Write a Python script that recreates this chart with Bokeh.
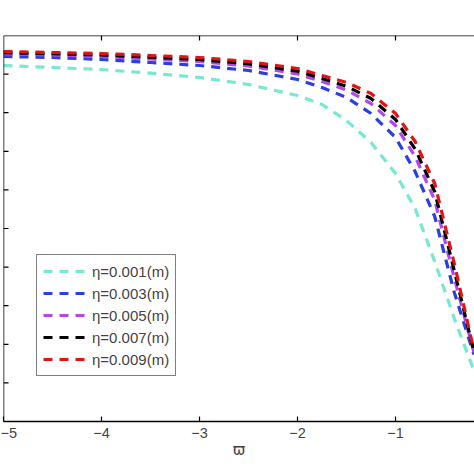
from bokeh.plotting import figure
from bokeh.models import LinearAxis, FixedTicker, Range1d, Legend, LegendItem, Span
from bokeh.embed import file_html
from bokeh.resources import INLINE

# frequency axis (varpi)
omega = [-5.0, -4.5, -4.0, -3.5, -3.0, -2.5, -2.0, -1.75, -1.5, -1.25, -1.0, -0.8, -0.6, -0.4, -0.2]

eta_001 = [0.9223, 0.9171, 0.9119, 0.9023, 0.8912, 0.8731, 0.8446, 0.8212, 0.7798, 0.7228, 0.6425, 0.5518, 0.4145, 0.2668, 0.1321]
eta_003 = [0.9456, 0.9430, 0.9378, 0.9301, 0.9223, 0.9093, 0.8860, 0.8653, 0.8394, 0.7979, 0.7358, 0.6477, 0.5311, 0.3342, 0.1736]
eta_005 = [0.9521, 0.9495, 0.9456, 0.9391, 0.9326, 0.9210, 0.9003, 0.8808, 0.8588, 0.8238, 0.7668, 0.6865, 0.5738, 0.3718, 0.1788]
eta_007 = [0.9553, 0.9527, 0.9495, 0.9437, 0.9378, 0.9268, 0.9074, 0.8886, 0.8685, 0.8368, 0.7824, 0.7060, 0.5952, 0.3905, 0.1813]
eta_009 = [0.9585, 0.9560, 0.9534, 0.9482, 0.9430, 0.9326, 0.9145, 0.8964, 0.8782, 0.8497, 0.7979, 0.7254, 0.6166, 0.4093, 0.1839]

labels = ["η=0.001(m)", "η=0.003(m)", "η=0.005(m)", "η=0.007(m)", "η=0.009(m)"]
colors = ["#78e8d0", "#2a3ee6", "#b048ee", "#000000", "#e01414"]
series = [eta_001, eta_003, eta_005, eta_007, eta_009]

x_ticks = [-5, -4, -3, -2, -1]
x_tick_labels = {-5: "−5", -4: "−4", -3: "−3", -2: "−2", -1: "−1"}
y_ticks = [0.1, 0.2, 0.3, 0.4, 0.5, 0.6, 0.7, 0.8, 0.9]

X0, X1 = -5, -0.194
Y0, Y1 = 0, 1
FONT = "Liberation Sans"

p = figure(width=474, height=474, output_backend="svg", toolbar_location=None,
           x_range=Range1d(X0, X1), y_range=Range1d(Y0, Y1),
           x_axis_location=None, y_axis_location=None,
           min_border_left=3, min_border_right=0, min_border_top=35, min_border_bottom=53)
p.outline_line_color = None
p.xgrid.visible = False
p.ygrid.visible = False
p.background_fill_color = "white"
p.border_fill_color = "white"

renderers = []
for s, c in zip(series, colors):
    r = p.line(omega, s, line_color=c, line_width=3.2, line_dash="9 7")
    renderers.append(r)

# bottom axis
xb = LinearAxis(ticker=FixedTicker(ticks=x_ticks), major_label_overrides=x_tick_labels,
                axis_label="ϖ")
xb.major_tick_in = 5
xb.major_tick_out = 0
xb.minor_tick_in = 0
xb.minor_tick_out = 0
xb.axis_line_width = 1.5
xb.major_tick_line_width = 1.2
xb.major_label_text_font = FONT
xb.major_label_text_font_size = "14.5px"
xb.major_label_standoff = 6
xb.axis_label_text_font = "DejaVu Sans"
xb.axis_label_text_font_style = "normal"
xb.axis_label_text_font_size = "15px"
xb.axis_label_standoff = 0
p.add_layout(xb, "below")

# left and top frame lines (labels of the y axis are cropped off in the reference)
p.add_layout(Span(location=X0, dimension="height", line_color="black", line_width=1.5))
p.add_layout(Span(location=Y1, dimension="width", line_color="black", line_width=1.5))

# inward ticks on left and top edges
p.ray(x=[X0] * len(y_ticks), y=y_ticks, length=5, length_units="screen", angle=0,
      line_color="black", line_width=1.2)
p.ray(x=x_ticks[1:], y=[Y1] * (len(x_ticks) - 1), length=5, length_units="screen",
      angle=-1.5707963, line_color="black", line_width=1.2)

items = [LegendItem(label=l, renderers=[r]) for l, r in zip(labels, renderers)]
legend = Legend(items=items, location=(33, 45))
legend.glyph_width = 45
legend.glyph_height = 20
legend.label_height = 20
legend.spacing = 2
legend.padding = 6
legend.margin = 0
legend.label_standoff = 4
legend.label_text_font = FONT
legend.label_text_font_size = "15px"
legend.border_line_color = "black"
legend.border_line_width = 1.2
legend.background_fill_alpha = 1
p.add_layout(legend, "center")

open("out.html", "w").write(file_html(p, INLINE))
